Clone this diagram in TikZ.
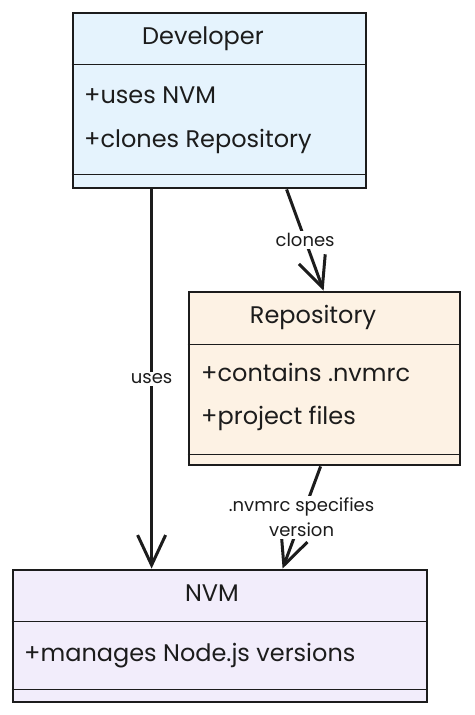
\documentclass[tikz,border=0pt]{standalone}
\usepackage{fontspec}
\setmainfont{Poppins}
\usetikzlibrary{arrows.meta,calc}
\definecolor{devfill}{RGB}{229,243,253}
\definecolor{repofill}{RGB}{253,242,228}
\definecolor{nvmfill}{RGB}{242,237,251}
\definecolor{ink}{RGB}{28,28,28}
\begin{document}
\begin{tikzpicture}[x=1pt,y=-1pt,
  classbox/.style={draw=ink, line width=2.8pt, rectangle, inner sep=0pt},
  sepline/.style={draw=ink, line width=1.6pt},
  title/.style={font=\fontsize{24}{28}\selectfont, text=ink, inner sep=0pt, anchor=base},
  attr/.style={font=\fontsize{24}{28}\selectfont, text=ink, inner sep=0pt, anchor=base west},
  arr/.style={draw=ink, line width=3pt, -{Straight Barb[length=30pt,width=28pt]}},
  lbl/.style={fill=white, text=ink, font=\fontsize{18}{25}\selectfont, inner sep=2pt, align=center}]
\useasboundingbox[fill=white] (0,0) rectangle (474,715);

% class boxes
\node[classbox, fill=devfill, minimum width=293pt, minimum height=175pt] (dev) at (219.5,100.5) {};
\node[classbox, fill=repofill, minimum width=271pt, minimum height=173pt] (repo) at (324.5,378.5) {};
\node[classbox, fill=nvmfill, minimum width=414pt, minimum height=132pt] (nvm) at (220,636) {};

% compartments
\draw[sepline] ($(dev.north west)+(0,53)$) -- ($(dev.north east)+(0,53)$);
\draw[sepline] ($(dev.south west)+(0,-15)$) -- ($(dev.south east)+(0,-15)$);
\draw[sepline] ($(repo.north west)+(0,54)$) -- ($(repo.north east)+(0,54)$);
\draw[sepline] ($(repo.south west)+(0,-12)$) -- ($(repo.south east)+(0,-12)$);
\draw[sepline] ($(nvm.north west)+(0,53)$) -- ($(nvm.north east)+(0,53)$);
\draw[sepline] ($(nvm.south west)+(0,-14)$) -- ($(nvm.south east)+(0,-14)$);

% texts
\node[title] (devT) at (203,44) {Developer};
\node[attr] (devA1) at (84,103) {+uses NVM};
\node[attr] (devA2) at (84,147) {+clones Repository};
\node[title] (repoT) at (313,323) {Repository};
\node[attr] (repoA1) at (201,381) {+contains .nvmrc};
\node[attr] (repoA2) at (201,424) {+project files};
\node[title] (nvmT) at (212,601) {NVM};
\node[attr] (nvmA1) at (24,661) {+manages Node.js versions};

% connectors
\coordinate (usesS) at ($(dev.south west)+(80,0)$);
\draw[arr] (usesS) -- (usesS |- nvm.north) node[lbl, midway] {uses};
\coordinate (clS) at ($(dev.south west)+(215,0)$);
\coordinate (clE) at ($(repo.north west)+(136,0)$);
\draw[arr] (clS) -- (clE) node[lbl, midway] {clones};
\coordinate (spS) at ($(repo.south west)+(133,0)$);
\coordinate (spE) at ($(nvm.north west)+(271,0)$);
\draw[arr] (spS) -- (spE) node[lbl, midway] {.nvmrc specifies\\version};
\end{tikzpicture}
\end{document}
